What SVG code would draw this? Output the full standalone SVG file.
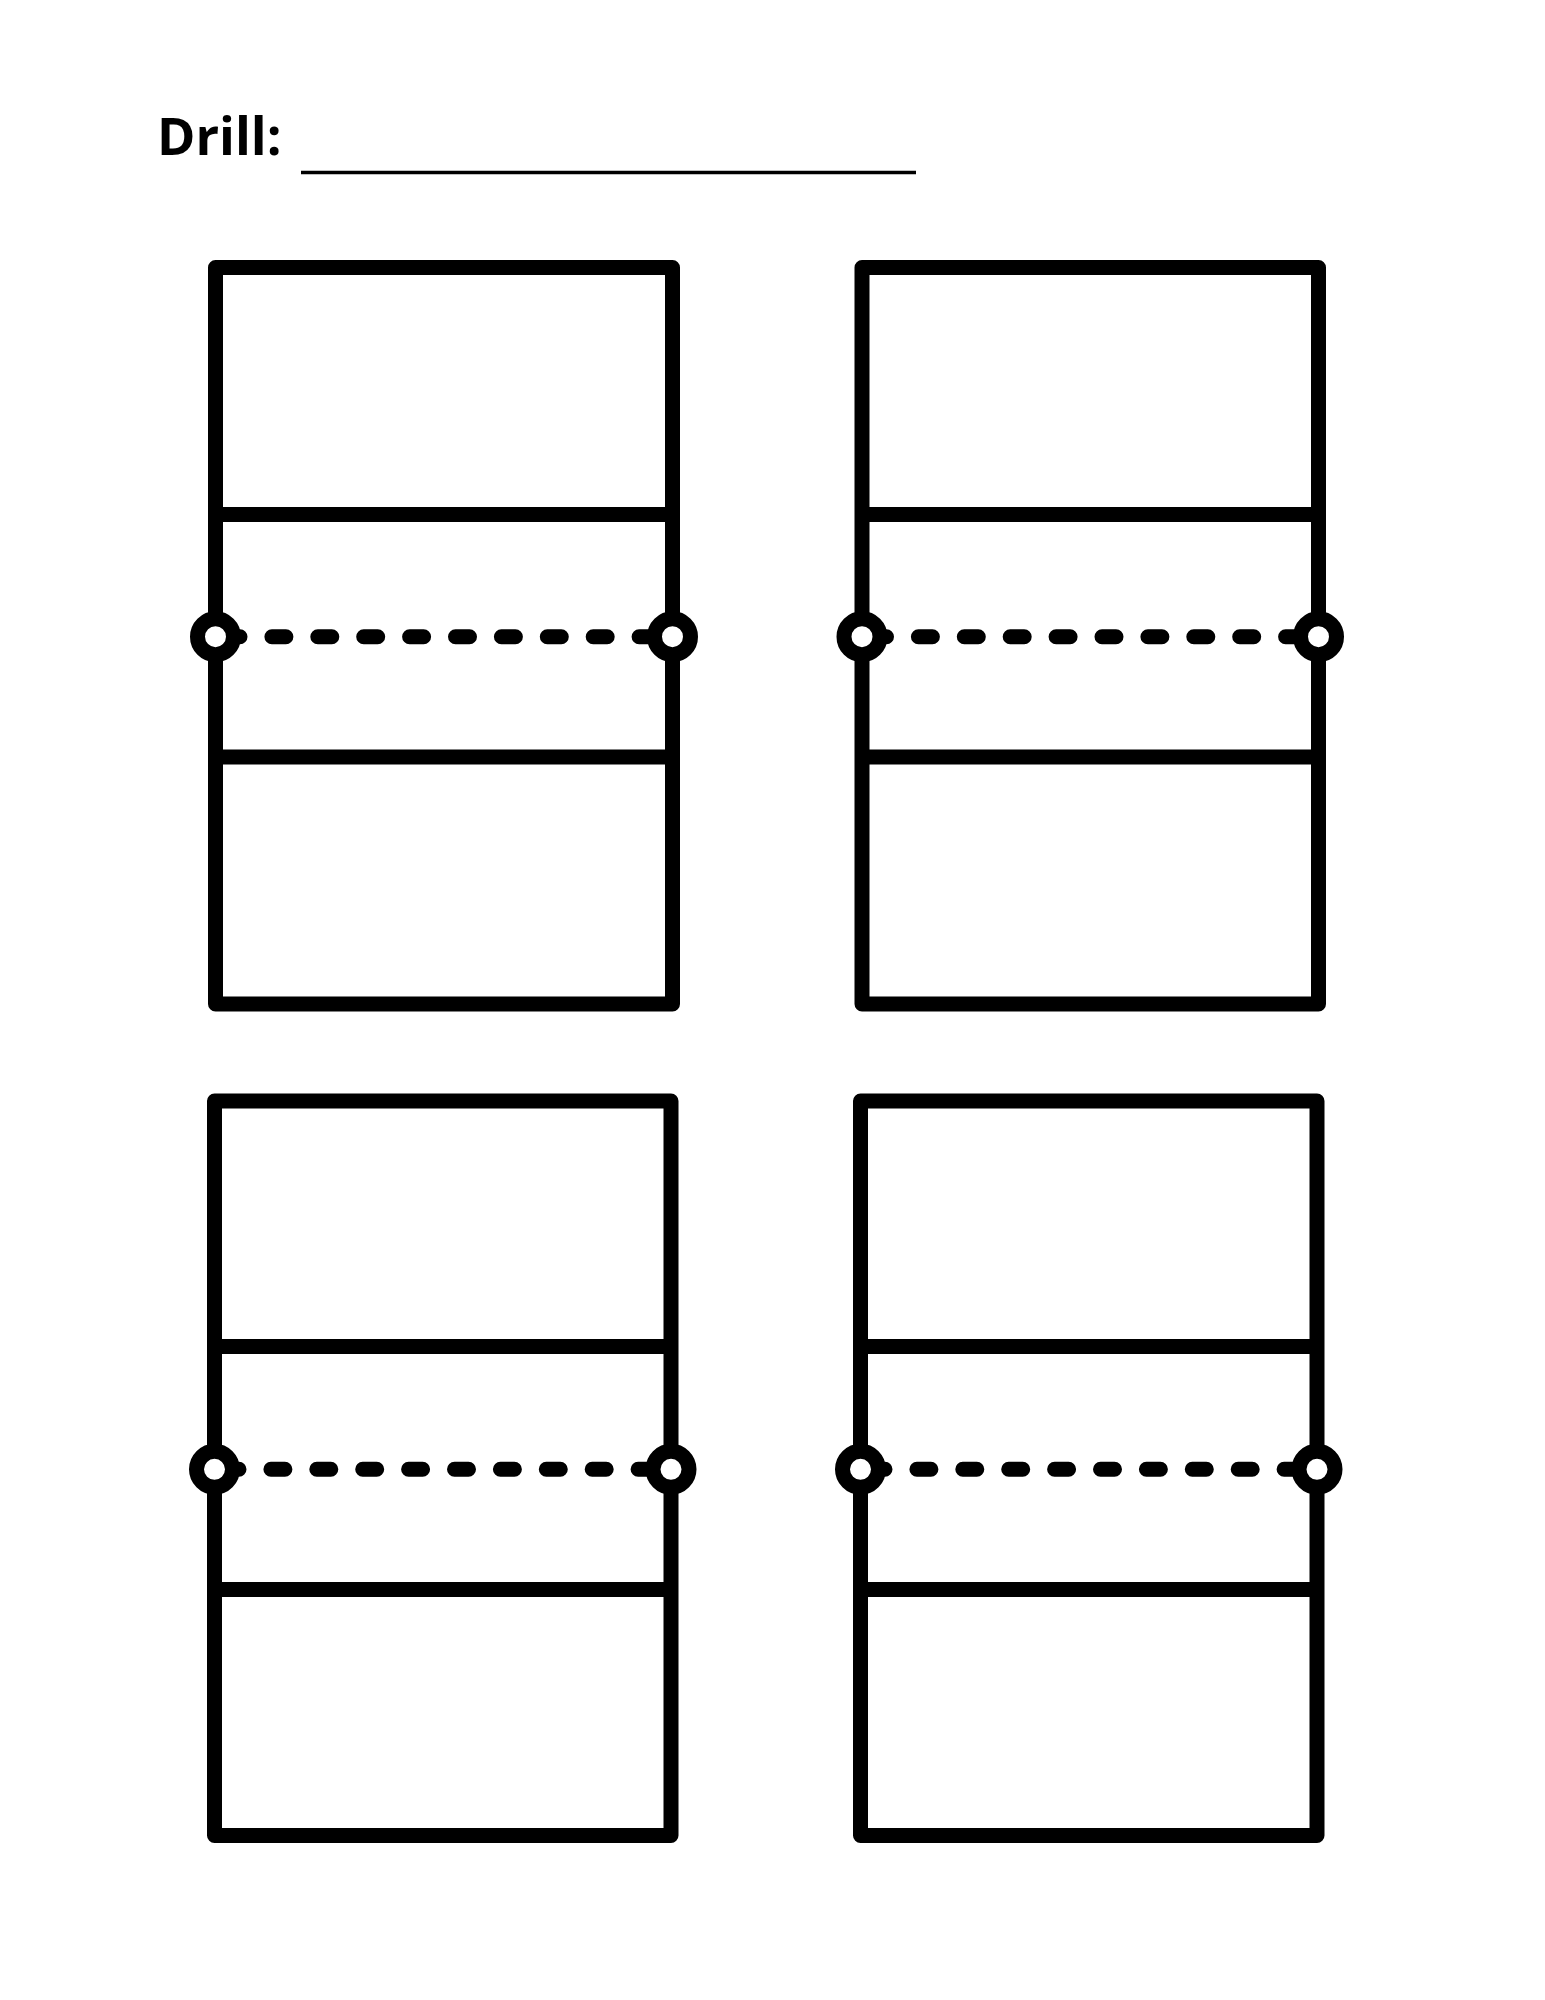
<svg xmlns="http://www.w3.org/2000/svg" width="1545" height="2000" viewBox="0 0 1545 2000">
<style>
.court{fill:none;stroke:#000;stroke-width:15;stroke-linejoin:round}
.line{stroke:#000;stroke-width:15;stroke-linecap:butt}
.net{stroke:#000;stroke-width:15;stroke-linecap:round;stroke-dasharray:14 31.9}
.post{fill:#fff;stroke:#000;stroke-width:15}
.title{font-family:"Open Sans","Liberation Sans",sans-serif;font-weight:700;font-size:52px;fill:#000}
</style>
<rect x="0" y="0" width="1545" height="2000" fill="#fff"/>
<g id="header">
<text class="title" x="157" y="155">Drill:</text>
<line x1="301" y1="172.5" x2="916" y2="172.5" stroke="#000" stroke-width="3.5"/>
</g>
<g id="court1">
<rect class="court" x="215.5" y="267.5" width="457" height="736.5"/>
<line class="line" x1="215.5" y1="514.5" x2="672.5" y2="514.5"/>
<line class="line" x1="215.5" y1="757" x2="672.5" y2="757"/>
<line class="net" x1="226" y1="636.7" x2="660" y2="636.7"/>
<circle class="post" cx="215.5" cy="636.7" r="18"/>
<circle class="post" cx="672.5" cy="636.7" r="18"/>
</g>
<g id="court2">
<rect class="court" x="862" y="267.5" width="456.5" height="736.5"/>
<line class="line" x1="862" y1="514.5" x2="1318.5" y2="514.5"/>
<line class="line" x1="862" y1="757" x2="1318.5" y2="757"/>
<line class="net" x1="872.5" y1="636.7" x2="1306" y2="636.7"/>
<circle class="post" cx="862" cy="636.7" r="18"/>
<circle class="post" cx="1318.5" cy="636.7" r="18"/>
</g>
<g id="court3">
<rect class="court" x="214.5" y="1101" width="456.5" height="734.5"/>
<line class="line" x1="214.5" y1="1346.5" x2="671" y2="1346.5"/>
<line class="line" x1="214.5" y1="1589.5" x2="671" y2="1589.5"/>
<line class="net" x1="225" y1="1469.3" x2="658" y2="1469.3"/>
<circle class="post" cx="214.5" cy="1469.3" r="18"/>
<circle class="post" cx="671" cy="1469.3" r="18"/>
</g>
<g id="court4">
<rect class="court" x="860.5" y="1101" width="456.5" height="734.5"/>
<line class="line" x1="860.5" y1="1346.5" x2="1317" y2="1346.5"/>
<line class="line" x1="860.5" y1="1589.5" x2="1317" y2="1589.5"/>
<line class="net" x1="871" y1="1469.3" x2="1304" y2="1469.3"/>
<circle class="post" cx="860.5" cy="1469.3" r="18"/>
<circle class="post" cx="1317" cy="1469.3" r="18"/>
</g>
<g id="connectors"></g>
</svg>
